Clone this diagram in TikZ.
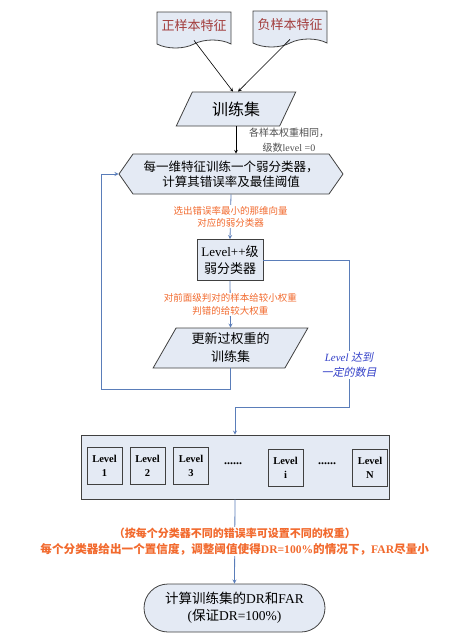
\documentclass[tikz,border=0pt]{standalone}
\usepackage{fontspec}
\setmainfont{Liberation Serif}
\newfontfamily\cjk{Noto Sans CJK SC}
\newfontfamily\cjkslant[FakeSlant=0.2]{Noto Sans CJK SC}
\usetikzlibrary{positioning,shapes.geometric,shapes.symbols,shapes.misc,calc}
\definecolor{ink}     {HTML}{404040}
\definecolor{boxfill} {HTML}{E4EAF4}
\definecolor{flow}    {HTML}{5A7DB9}
\definecolor{hint}    {HTML}{F26A2E}
\definecolor{docred}  {HTML}{A23C3C}
\definecolor{reach}   {HTML}{3340C8}
\definecolor{softink} {HTML}{505050}
\tikzset{
  >=stealth,
  % --- nodes
  base/.style   = {draw=ink, fill=boxfill, line width=0.8pt, align=center, inner sep=2pt},
  docbox/.style = {base, tape, tape bend top=none, tape bend bottom=in and out,
                   tape bend height=8pt, minimum width=74pt, minimum height=36pt,
                   text=docred, font=\cjk\fontsize{13}{15}\selectfont},
  dataio/.style = {base, trapezium, trapezium left angle=63, trapezium right angle=117,
                   trapezium stretches=true},
  proc/.style   = {base, rectangle},
  prep/.style   = {base, signal, signal to=east and west, signal pointer angle=110},
  term/.style   = {base, rounded rectangle, minimum width=185pt, minimum height=48pt},
  lvl/.style    = {base, minimum width=35pt, minimum height=37pt, inner sep=1pt,
                   font=\bfseries\fontsize{10.5}{14}\selectfont},
  dotsep/.style = {font=\bfseries\fontsize{12}{14}\selectfont},
  hintlbl/.style= {font=\cjk\fontsize{9.5}{12.5}\selectfont, text=hint, align=center,
                   fill=white, inner sep=1pt},
  graylbl/.style= {font=\cjk\fontsize{10}{15}\selectfont, text=softink, align=center, inner sep=1pt},
  reachlbl/.style={font=\cjkslant\fontsize{11}{15}\selectfont, text=reach, fill=white,
                   align=center, inner sep=1pt},
  % --- edges
  bk/.style     = {-stealth, draw=black, line width=0.6pt},
  fl/.style     = {-stealth, draw=flow, line width=0.8pt},
}
\begin{document}
\begin{tikzpicture}[x=1pt,y=-1pt]
  \useasboundingbox (0,0) rectangle (475,640);

  % sample features
  \node[docbox] (pos) at (194,26) {正样本特征};
  \node[docbox] (neg) at (290,25) {负样本特征};

  % training set and weak classifiers
  \node[dataio, minimum width=120pt, minimum height=34pt,
        font=\cjk\fontsize{16}{18}\selectfont] (train) at (236,109) {训练集};
  \node[prep, minimum width=224pt, minimum height=40pt,
        font=\cjk\fontsize{12.5}{15}\selectfont] (hex) at (231,174)
    {每一维特征训练一个弱分类器，\\计算其错误率及最佳阈值};
  \node[proc, minimum width=66pt, minimum height=41pt,
        font=\cjk\fontsize{13}{17}\selectfont] (lvlup) at (230,260)
    {{\rmfamily Level++}级\\弱分类器};
  \node[dataio, minimum width=155pt, minimum height=40pt,
        font=\cjk\fontsize{13}{18}\selectfont] (update) at (230.5,348)
    {更新过权重的\\训练集};

  \node[graylbl] (init) at (289,140) {各样本权重相同，\\级数{\rmfamily level =0}};

  % strong classifier
  \node[base, minimum width=308pt, minimum height=64pt] (big) at (235,467) {};
  \node[lvl] (l1) at (104.5,466) {Level\\1};
  \node[lvl] (l2) at (147.5,466) {Level\\2};
  \node[lvl] (l3) at (191,466) {Level\\3};
  \node[dotsep] (dots1) at (233,464) {......};
  \node[lvl] (li) at (285.5,468) {Level\\i};
  \node[dotsep] (dots2) at (327,464) {......};
  \node[lvl] (ln) at (370,468) {Level\\N};

  \node[term, font=\cjk\fontsize{13.5}{17}\selectfont] (result) at (234.5,608)
    {计算训练集的{\rmfamily DR}和{\rmfamily FAR}\\{\rmfamily (}保证{\rmfamily DR=100\%)}};

  % connectors
  \draw[bk] (pos.south) -- ([xshift=-3pt]train.north);
  \draw[bk] (neg.south) -- ([xshift=2pt]train.north);
  \draw[bk] (train.south) -- (train.south |- hex.north);
  \draw[fl] (hex.south) -- node[hintlbl] {选出错误率最小的那维向量\\对应的弱分类器} (lvlup.north);
  \draw[fl] (lvlup.south) -- node[hintlbl] {对前面级判对的样本给较小权重\\判错的给较大权重} (update.north);

  \coordinate (loopback) at (101,389);
  \draw[fl] (update.south) |- (loopback) |- (hex.west);

  \coordinate (reachturn) at (349,407);
  \draw[fl] (lvlup.east) -| (reachturn) -| (big.north);
  \node[reachlbl] (enough) at (349,365) {{\rmfamily\itshape Level} 达到\\一定的数目};

  \draw[fl] (big.south) -- node[hintlbl, font=\cjk\bfseries\fontsize{11}{16}\selectfont] (weights)
    {（按每个分类器不同的错误率可设置不同的权重）\\
     {\fontsize{11.6}{16}\selectfont 每个分类器给出一个置信度，调整阈值使得{\rmfamily DR=100\%}的情况下，{\rmfamily FAR}尽量小}}
    (result.north);
\end{tikzpicture}
\end{document}
